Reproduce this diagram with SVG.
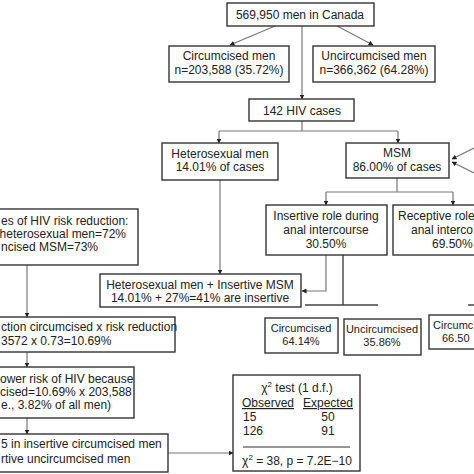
<svg xmlns="http://www.w3.org/2000/svg" width="474" height="474" viewBox="0 0 474 474">
<defs>
<style>
.box{fill:#fff;stroke:#333;stroke-width:1.4}
.t{font-family:"Liberation Sans",Arial,sans-serif;font-size:12px;fill:#222;text-anchor:middle}
.s{font-size:11px}
.e{text-anchor:end}
.st{text-anchor:start}
.c{fill:none;stroke:#777;stroke-width:1.2}
.d{fill:none;stroke:#444;stroke-width:1.4}
</style>
<marker id="a" viewBox="0 0 10 10" refX="9" refY="5" markerWidth="5" markerHeight="5" orient="auto" markerUnits="userSpaceOnUse"><path d="M0,0L10,5L0,10z" fill="#222"/></marker>
</defs>
<rect width="474" height="474" fill="#fff"/>
<g id="connectors">
<path class="c" d="M275,26L230,45" marker-end="url(#a)"/>
<path class="c" d="M337,26L373,45" marker-end="url(#a)"/>
<path class="c" d="M302,26V99" marker-end="url(#a)"/>
<path class="c" d="M302,121V131M219,131H398"/>
<path class="c" d="M219,131V143" marker-end="url(#a)"/>
<path class="c" d="M398,131V143" marker-end="url(#a)"/>
<path class="c" d="M474,148L452,159" marker-end="url(#a)"/>
<path class="c" d="M474,173L452,162" marker-end="url(#a)"/>
<path class="c" d="M397,178V192M326,192H453"/>
<path class="c" d="M326,192V205" marker-end="url(#a)"/>
<path class="c" d="M453,192V205" marker-end="url(#a)"/>
<path class="c" d="M220,180V274" marker-end="url(#a)"/>
<path class="c" d="M326,255V291H302" marker-end="url(#a)"/>
<path class="d" d="M343,255V305M305,305H378M468,305H474"/>
<path class="c" d="M27,265V317" marker-end="url(#a)"/>
<path class="c" d="M27,352V367" marker-end="url(#a)"/>
<path class="c" d="M27,418V434" marker-end="url(#a)"/>
<path class="c" d="M168,453H233" marker-end="url(#a)"/>
</g>
<g id="n-total"><rect class="box" x="227" y="3" width="147" height="23"/><text class="t" x="300" y="19">569,950 men in Canada</text></g>
<g id="n-circ"><rect class="box" x="169" y="46" width="120" height="36"/><text class="t" x="229" y="60">Circumcised men</text><text class="t" x="229" y="74">n=203,588 (35.72%)</text></g>
<g id="n-uncirc"><rect class="box" x="313" y="46" width="122" height="36"/><text class="t" x="374" y="60">Uncircumcised men</text><text class="t" x="374" y="74">n=366,362 (64.28%)</text></g>
<g id="n-hiv"><rect class="box" x="249" y="99" width="105" height="22"/><text class="t" x="302" y="115">142 HIV cases</text></g>
<g id="n-hetero"><rect class="box" x="162" y="143" width="116" height="37"/><text class="t" x="220" y="158">Heterosexual men</text><text class="t" x="220" y="171">14.01% of cases</text></g>
<g id="n-msm"><rect class="box" x="346" y="143" width="103" height="35"/><text class="t" x="397" y="157">MSM</text><text class="t" x="397" y="171">86.00% of cases</text></g>
<g id="n-insertive"><rect class="box" x="266" y="205" width="121" height="50"/><text class="t" x="326" y="220">Insertive role during</text><text class="t" x="326" y="234">anal intercourse</text><text class="t" x="326" y="248">30.50%</text></g>
<g id="n-receptive"><rect class="box" x="393" y="205" width="100" height="50"/><text class="t st" x="398" y="220" font-size="11.5">Receptive role</text><text class="t st" x="411" y="234">anal interco</text><text class="t st" x="432" y="248">69.50%</text></g>
<g id="n-combined"><rect class="box" x="100" y="274" width="201" height="33"/><text class="t" x="200" y="289">Heterosexual men + Insertive MSM</text><text class="t" x="200" y="302">14.01% + 27%=41% are insertive</text></g>
<g id="n-c1"><rect class="box" x="265" y="318" width="73" height="35"/><text class="t s" x="301" y="332">Circumcised</text><text class="t s" x="301" y="345">64.14%</text></g>
<g id="n-u1"><rect class="box" x="344" y="319" width="77" height="36"/><text class="t s" x="382" y="333">Uncircumcised</text><text class="t s" x="382" y="346">35.86%</text></g>
<g id="n-c2"><rect class="box" x="429" y="315" width="70" height="34"/><text class="t s st" x="433" y="329">Circumc</text><text class="t s st" x="442" y="342">66.50</text></g>
<g id="n-estimates"><rect class="box" x="-10" y="209" width="148" height="56"/><text class="t st" x="1" y="225">es of HIV risk reduction:</text><text class="t e" x="126" y="238">heterosexual men=72%</text><text class="t st" x="1" y="251">ncised MSM=73%</text></g>
<g id="n-fraction"><rect class="box" x="-10" y="317" width="185" height="35"/><text class="t st" x="1" y="331">ction circumcised x risk reduction</text><text class="t st" x="1" y="345">3572 x 0.73=10.69%</text></g>
<g id="n-lower"><rect class="box" x="-10" y="367" width="144" height="51"/><text class="t st" x="0" y="383">ower risk of HIV because</text><text class="t st" x="0" y="396">cised=10.69% x 203,588</text><text class="t st" x="1" y="409">e., 3.82% of all men)</text></g>
<g id="n-expected"><rect class="box" x="-10" y="434" width="178" height="38"/><text class="t st" x="1" y="448">5 in insertive circumcised men</text><text class="t st" x="1" y="463">rtive uncircumcised men</text></g>
<g id="n-chi"><rect class="box" x="233" y="375" width="127" height="96" stroke-width="1.8"/>
<text class="t" x="297" y="392">χ<tspan font-size="8" dy="-5">2</tspan><tspan dy="5"> test (1 d.f.)</tspan></text>
<text class="t" x="268" y="407" text-decoration="underline">Observed</text>
<text class="t" x="328" y="407" text-decoration="underline">Expected</text>
<text class="t st" x="243" y="421">15</text><text class="t" x="328" y="421">50</text>
<text class="t st" x="243" y="435">126</text><text class="t" x="328" y="435">91</text>
<path d="M243,447H350" stroke="#333" stroke-width="1.2"/>
<text class="t" x="297" y="465">χ<tspan font-size="8" dy="-5">2</tspan><tspan dy="5"> = 38, p = 7.2E−10</tspan></text>
</g>
</svg>
